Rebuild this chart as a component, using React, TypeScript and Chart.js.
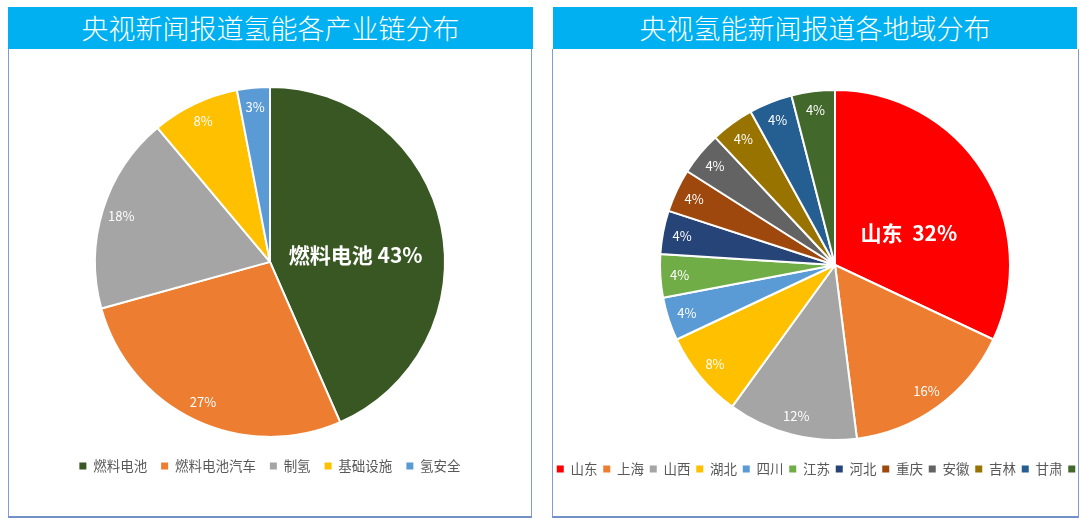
import React, { useEffect, useRef } from 'react';
import { Chart, registerables } from 'chart.js';

Chart.register(...registerables);

const FONT = '"Noto Sans CJK SC", "Microsoft YaHei", sans-serif';

const chainTitle = '央视新闻报道氢能各产业链分布';
const chainLabels = ['燃料电池', '燃料电池汽车', '制氢', '基础设施', '氢安全'];
const chainValues = [43, 27, 18, 8, 3];
const chainColors = ['#385723', '#ED7D31', '#A5A5A5', '#FFC000', '#5B9BD5'];

const regionTitle = '央视氢能新闻报道各地域分布';
const regionLabels = ['山东', '上海', '山西', '湖北', '四川', '江苏', '河北', '重庆', '安徽', '吉林', '甘肃', '北京'];
const regionValues = [32, 16, 12, 8, 4, 4, 4, 4, 4, 4, 4, 4];
const regionColors = ['#FF0000', '#ED7D31', '#A5A5A5', '#FFC000', '#5B9BD5', '#70AD47', '#264478', '#9E480E', '#636363', '#997300', '#255E91', '#43682B'];

const sliceLabels = {
  id: 'sliceLabels',
  afterDatasetsDraw(chart: any, _args: any, opts: any) {
    const ctx = chart.ctx;
    const meta = chart.getDatasetMeta(0);
    const labels = chart.data.labels;
    const data = chart.data.datasets[0].data;
    meta.data.forEach((arc: any, i: number) => {
      const p = arc.getProps(['x', 'y', 'startAngle', 'endAngle', 'outerRadius'], true);
      const mid = (p.startAngle + p.endAngle) / 2;
      const big = i === 0;
      const r = p.outerRadius * (big ? opts.bigFrac : opts.smallFrac);
      const px = p.x + Math.cos(mid) * r;
      const py = p.y + Math.sin(mid) * r + (big ? opts.bigDy : 0);
      ctx.save();
      ctx.fillStyle = '#FFFFFF';
      ctx.textAlign = 'center';
      ctx.textBaseline = 'middle';
      ctx.font = big ? `bold 21px ${FONT}` : `13px ${FONT}`;
      const text = big ? `${labels[i]}${opts.gap}${data[i]}%` : `${data[i]}%`;
      ctx.fillText(text, px, py);
      ctx.restore();
    });
  },
};

const legendLabels = (chart: any) =>
  (Chart as any).overrides.doughnut.plugins.legend.labels
    .generateLabels(chart)
    .map((it: any) => ({ ...it, lineWidth: 0, strokeStyle: it.fillStyle }));

const titleStyle = (left: number, width: number): React.CSSProperties => ({
  position: 'fixed',
  left,
  top: 7,
  width,
  height: 42,
  background: '#00B0F0',
  color: '#FFFFFF',
  fontFamily: FONT,
  fontSize: 27,
  fontWeight: 300,
  lineHeight: '42px',
  textAlign: 'center',
  whiteSpace: 'nowrap',
});

const boxStyle = (left: number, width: number): React.CSSProperties => ({
  position: 'fixed',
  left,
  top: 49,
  width,
  height: 469,
  boxSizing: 'border-box',
  borderLeft: '1.5px solid #7F9DD3',
  borderRight: '1.5px solid #7F9DD3',
  borderBottom: '2px solid #7391C8',
  background: '#FFFFFF',
});

export default function App() {
  const leftRef = useRef<HTMLCanvasElement>(null);
  const rightRef = useRef<HTMLCanvasElement>(null);

  useEffect(() => {
    const left = new Chart(leftRef.current as HTMLCanvasElement, {
      type: 'doughnut',
      data: {
        labels: chainLabels,
        datasets: [
          {
            data: chainValues,
            backgroundColor: chainColors,
            borderColor: '#FFFFFF',
            borderWidth: 2,
            radius: 175,
          } as any,
        ],
      },
      options: {
        responsive: false,
        animation: false,
        cutout: 0,
        layout: { padding: { top: 29.5, bottom: 33.25, left: 0, right: 0 } },
        plugins: {
          legend: {
            position: 'bottom',
            labels: {
              boxWidth: 7,
              boxHeight: 7,
              padding: 14,
              color: '#595959',
              font: { family: FONT, size: 13.5 },
              generateLabels: legendLabels,
            },
          },
          tooltip: { enabled: false },
          sliceLabels: { bigFrac: 0.5, smallFrac: 0.89, bigDy: 11, gap: ' ' },
        } as any,
      },
      plugins: [sliceLabels as any],
    });

    const right = new Chart(rightRef.current as HTMLCanvasElement, {
      type: 'doughnut',
      data: {
        labels: regionLabels,
        datasets: [
          {
            data: regionValues,
            backgroundColor: regionColors,
            borderColor: '#FFFFFF',
            borderWidth: 2,
            radius: 175,
          } as any,
        ],
      },
      options: {
        responsive: false,
        animation: false,
        cutout: 0,
        layout: { padding: { top: 24.5, bottom: 30.25, left: 0, right: 0 } },
        plugins: {
          title: {
            display: true,
            position: 'right',
            text: '',
            fullSize: false,
            font: { size: 1 },
            padding: { top: 150.8, bottom: 0 },
          },
          legend: {
            position: 'bottom',
            align: 'start',
            labels: {
              boxWidth: 7,
              boxHeight: 7,
              padding: 5.75,
              color: '#595959',
              font: { family: FONT, size: 13.5 },
              generateLabels: legendLabels,
            },
          },
          tooltip: { enabled: false },
          sliceLabels: { bigFrac: 0.5, smallFrac: 0.89, bigDy: 15, gap: '  ' },
        } as any,
      },
      plugins: [sliceLabels as any],
    });

    return () => {
      left.destroy();
      right.destroy();
    };
  }, []);

  return (
    <div>
      <div style={boxStyle(8, 524)} />
      <div style={titleStyle(8, 525)}>{chainTitle}</div>
      <canvas ref={leftRef} width={522} height={467} style={{ position: 'fixed', left: 9, top: 49 }} />

      <div style={boxStyle(552, 527)} />
      <div style={titleStyle(553, 524)}>{regionTitle}</div>
      <div style={{ position: 'fixed', left: 553.5, top: 49, width: 523, height: 467, overflow: 'hidden' }}>
        <canvas ref={rightRef} width={720} height={467} style={{ position: 'absolute', left: -2.5, top: 0 }} />
      </div>
    </div>
  );
}
